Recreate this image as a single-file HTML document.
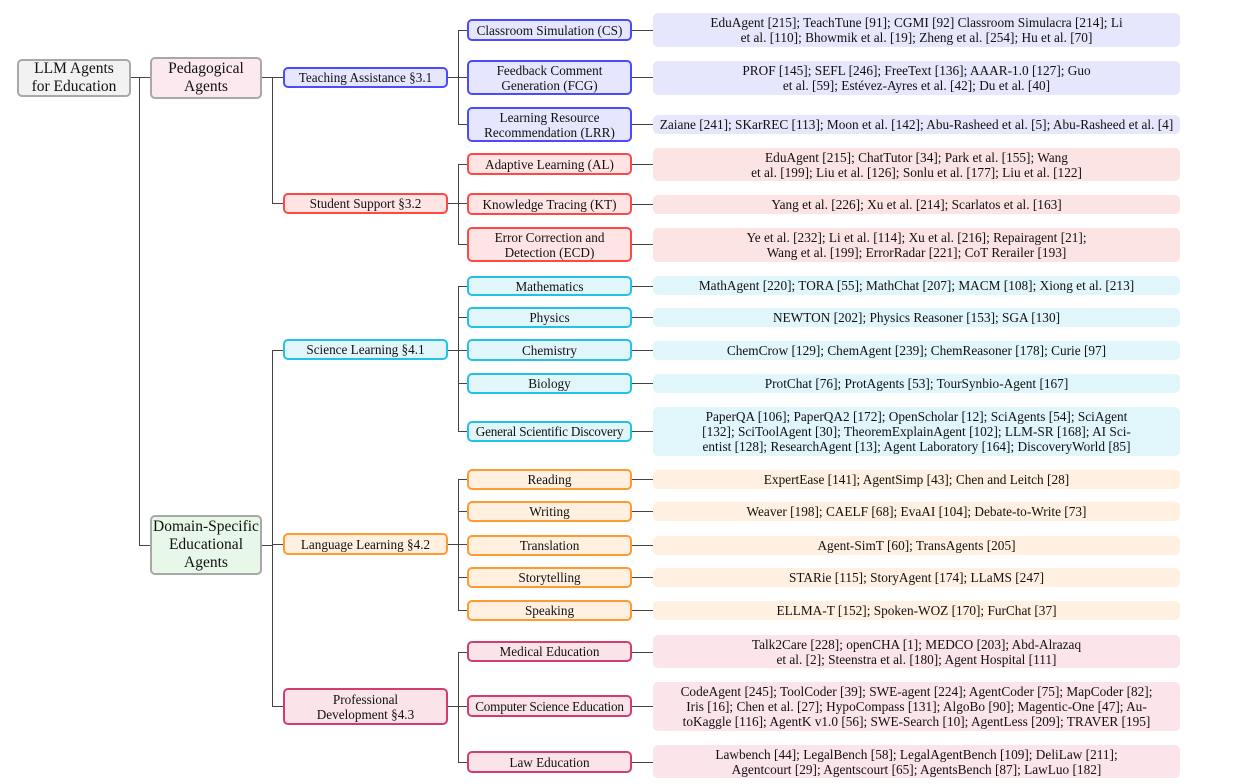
<!DOCTYPE html>
<html><head><meta charset="utf-8"><style>
body{margin:0;width:1235px;height:784px;background:#fff;position:relative;overflow:hidden;font-family:"Liberation Serif",serif;color:#111}
.b{position:absolute;display:flex;align-items:center;justify-content:center;text-align:center;box-sizing:border-box;border-radius:5px;font-size:13.2px;line-height:15px;letter-spacing:0}
.l{position:absolute;background:#444}
.g{border:2px solid #a8a8a8}
.bl{border:2px solid #4a4aff;background:#e6e6ff}
.rd{border:2px solid #ff4747;background:#ffe4e4}
.cy{border:2px solid #22c2e6;background:#e0f6fb}
.or{border:2px solid #ff9a33;background:#fff0e0}
.mg{border:2px solid #d43d6b;background:#fbe3ea}
.lf{font-size:13.3px;line-height:15px;letter-spacing:0;white-space:nowrap}
.lb{background:#e6e6fc}.lr{background:#fde4e4}.lc{background:#e0f6fb}.lo{background:#fff0e2}.lm{background:#fbe4ea}
</style></head><body>
<div class="l" style="left:131px;top:77px;width:19px;height:1.3px"></div>
<div class="l" style="left:139px;top:77px;width:1.3px;height:468px"></div>
<div class="l" style="left:139px;top:545px;width:11px;height:1.3px"></div>
<div class="l" style="left:262px;top:77px;width:21px;height:1.3px"></div>
<div class="l" style="left:272px;top:77px;width:1.3px;height:126px"></div>
<div class="l" style="left:272px;top:203px;width:11px;height:1.3px"></div>
<div class="l" style="left:262px;top:545px;width:10px;height:1.3px"></div>
<div class="l" style="left:272px;top:350px;width:1.3px;height:356px"></div>
<div class="l" style="left:272px;top:350px;width:11px;height:1.3px"></div>
<div class="l" style="left:272px;top:544px;width:11px;height:1.3px"></div>
<div class="l" style="left:272px;top:706px;width:11px;height:1.3px"></div>
<div class="l" style="left:458px;top:30px;width:1.3px;height:94px"></div>
<div class="l" style="left:448px;top:77px;width:19px;height:1.3px"></div>
<div class="l" style="left:458px;top:164px;width:1.3px;height:80px"></div>
<div class="l" style="left:448px;top:203px;width:19px;height:1.3px"></div>
<div class="l" style="left:458px;top:286px;width:1.3px;height:145px"></div>
<div class="l" style="left:448px;top:350px;width:19px;height:1.3px"></div>
<div class="l" style="left:458px;top:479px;width:1.3px;height:131px"></div>
<div class="l" style="left:448px;top:544px;width:19px;height:1.3px"></div>
<div class="l" style="left:458px;top:652px;width:1.3px;height:110px"></div>
<div class="l" style="left:448px;top:706px;width:19px;height:1.3px"></div>
<div class="l" style="left:458px;top:30px;width:195px;height:1.3px"></div>
<div class="l" style="left:458px;top:124px;width:195px;height:1.3px"></div>
<div class="l" style="left:632px;top:77px;width:21px;height:1.3px"></div>
<div class="l" style="left:458px;top:164px;width:195px;height:1.3px"></div>
<div class="l" style="left:632px;top:204px;width:21px;height:1.3px"></div>
<div class="l" style="left:458px;top:244px;width:195px;height:1.3px"></div>
<div class="l" style="left:458px;top:286px;width:195px;height:1.3px"></div>
<div class="l" style="left:458px;top:317px;width:195px;height:1.3px"></div>
<div class="l" style="left:632px;top:350px;width:21px;height:1.3px"></div>
<div class="l" style="left:458px;top:383px;width:195px;height:1.3px"></div>
<div class="l" style="left:458px;top:431px;width:195px;height:1.3px"></div>
<div class="l" style="left:458px;top:479px;width:195px;height:1.3px"></div>
<div class="l" style="left:458px;top:511px;width:195px;height:1.3px"></div>
<div class="l" style="left:632px;top:545px;width:21px;height:1.3px"></div>
<div class="l" style="left:458px;top:577px;width:195px;height:1.3px"></div>
<div class="l" style="left:458px;top:610px;width:195px;height:1.3px"></div>
<div class="l" style="left:458px;top:652px;width:195px;height:1.3px"></div>
<div class="l" style="left:632px;top:706px;width:21px;height:1.3px"></div>
<div class="l" style="left:458px;top:762px;width:195px;height:1.3px"></div>

<div class="b g" style="left:17px;top:59px;width:114px;height:38px;background:#f2f2f2;font-size:15.5px;line-height:18px">LLM Agents<br>for Education</div>
<div class="b g" style="left:150px;top:57px;width:112px;height:42px;background:#fce9f0;font-size:15.5px;line-height:18px">Pedagogical<br>Agents</div>
<div class="b g" style="left:150px;top:515px;width:112px;height:60px;background:#e8f8e8;font-size:15.5px;line-height:18px">Domain-Specific<br>Educational<br>Agents</div>

<div class="b bl" style="left:283px;top:67px;width:165px;height:21px">Teaching Assistance §3.1</div>
<div class="b rd" style="left:283px;top:193px;width:165px;height:21px">Student Support §3.2</div>
<div class="b cy" style="left:283px;top:339px;width:165px;height:21px">Science Learning §4.1</div>
<div class="b or" style="left:283px;top:533px;width:165px;height:22px">Language Learning §4.2</div>
<div class="b mg" style="left:283px;top:688px;width:165px;height:37px">Professional<br>Development §4.3</div>

<div class="b bl" style="left:467px;top:19px;width:165px;height:22px">Classroom Simulation (CS)</div>
<div class="b bl" style="left:467px;top:60px;width:165px;height:35px">Feedback Comment<br>Generation (FCG)</div>
<div class="b bl" style="left:467px;top:107px;width:165px;height:35px">Learning Resource<br>Recommendation (LRR)</div>
<div class="b rd" style="left:467px;top:153px;width:165px;height:22px">Adaptive Learning (AL)</div>
<div class="b rd" style="left:467px;top:193px;width:165px;height:22px">Knowledge Tracing (KT)</div>
<div class="b rd" style="left:467px;top:227px;width:165px;height:35px">Error Correction and<br>Detection (ECD)</div>
<div class="b cy" style="left:467px;top:276px;width:165px;height:20px">Mathematics</div>
<div class="b cy" style="left:467px;top:307px;width:165px;height:21px">Physics</div>
<div class="b cy" style="left:467px;top:339px;width:165px;height:22px">Chemistry</div>
<div class="b cy" style="left:467px;top:373px;width:165px;height:21px">Biology</div>
<div class="b cy" style="left:467px;top:421px;width:165px;height:21px;letter-spacing:-0.2px">General Scientific Discovery</div>
<div class="b or" style="left:467px;top:469px;width:165px;height:21px">Reading</div>
<div class="b or" style="left:467px;top:501px;width:165px;height:21px">Writing</div>
<div class="b or" style="left:467px;top:535px;width:165px;height:21px">Translation</div>
<div class="b or" style="left:467px;top:567px;width:165px;height:21px">Storytelling</div>
<div class="b or" style="left:467px;top:600px;width:165px;height:21px">Speaking</div>
<div class="b mg" style="left:467px;top:641px;width:165px;height:21px">Medical Education</div>
<div class="b mg" style="left:467px;top:695px;width:165px;height:22px;letter-spacing:-0.2px">Computer Science Education</div>
<div class="b mg" style="left:467px;top:751px;width:165px;height:22px">Law Education</div>

<div class="b lf lb" style="left:653px;top:13px;width:527px;height:34px">EduAgent [215]; TeachTune [91]; CGMI [92] Classroom Simulacra [214]; Li<br>et al. [110]; Bhowmik et al. [19]; Zheng et al. [254]; Hu et al. [70]</div>
<div class="b lf lb" style="left:653px;top:61px;width:527px;height:34px">PROF [145]; SEFL [246]; FreeText [136]; AAAR-1.0 [127]; Guo<br>et al. [59]; Estévez-Ayres et al. [42]; Du et al. [40]</div>
<div class="b lf lb" style="left:653px;top:115px;width:527px;height:19px">Zaiane [241]; SKarREC [113]; Moon et al. [142]; Abu-Rasheed et al. [5]; Abu-Rasheed et al. [4]</div>
<div class="b lf lr" style="left:653px;top:148px;width:527px;height:33px">EduAgent [215]; ChatTutor [34]; Park et al. [155]; Wang<br>et al. [199]; Liu et al. [126]; Sonlu et al. [177]; Liu et al. [122]</div>
<div class="b lf lr" style="left:653px;top:195px;width:527px;height:19px">Yang et al. [226]; Xu et al. [214]; Scarlatos et al. [163]</div>
<div class="b lf lr" style="left:653px;top:228px;width:527px;height:34px">Ye et al. [232]; Li et al. [114]; Xu et al. [216]; Repairagent [21];<br>Wang et al. [199]; ErrorRadar [221]; CoT Rerailer [193]</div>
<div class="b lf lc" style="left:653px;top:276px;width:527px;height:19px">MathAgent [220]; TORA [55]; MathChat [207]; MACM [108]; Xiong et al. [213]</div>
<div class="b lf lc" style="left:653px;top:308px;width:527px;height:19px">NEWTON [202]; Physics Reasoner [153]; SGA [130]</div>
<div class="b lf lc" style="left:653px;top:341px;width:527px;height:19px">ChemCrow [129]; ChemAgent [239]; ChemReasoner [178]; Curie [97]</div>
<div class="b lf lc" style="left:653px;top:374px;width:527px;height:19px">ProtChat [76]; ProtAgents [53]; TourSynbio-Agent [167]</div>
<div class="b lf lc" style="left:653px;top:407px;width:527px;height:49px">PaperQA [106]; PaperQA2 [172]; OpenScholar [12]; SciAgents [54]; SciAgent<br>[132]; SciToolAgent [30]; TheoremExplainAgent [102]; LLM-SR [168]; AI Sci-<br>entist [128]; ResearchAgent [13]; Agent Laboratory [164]; DiscoveryWorld [85]</div>
<div class="b lf lo" style="left:653px;top:470px;width:527px;height:19px">ExpertEase [141]; AgentSimp [43]; Chen and Leitch [28]</div>
<div class="b lf lo" style="left:653px;top:502px;width:527px;height:19px">Weaver [198]; CAELF [68]; EvaAI [104]; Debate-to-Write [73]</div>
<div class="b lf lo" style="left:653px;top:536px;width:527px;height:19px">Agent-SimT [60]; TransAgents [205]</div>
<div class="b lf lo" style="left:653px;top:568px;width:527px;height:19px">STARie [115]; StoryAgent [174]; LLaMS [247]</div>
<div class="b lf lo" style="left:653px;top:601px;width:527px;height:19px">ELLMA-T [152]; Spoken-WOZ [170]; FurChat [37]</div>
<div class="b lf lm" style="left:653px;top:635px;width:527px;height:33px">Talk2Care [228]; openCHA [1]; MEDCO [203]; Abd-Alrazaq<br>et al. [2]; Steenstra et al. [180]; Agent Hospital [111]</div>
<div class="b lf lm" style="left:653px;top:682px;width:527px;height:49px">CodeAgent [245]; ToolCoder [39]; SWE-agent [224]; AgentCoder [75]; MapCoder [82];<br>Iris [16]; Chen et al. [27]; HypoCompass [131]; AlgoBo [90]; Magentic-One [47]; Au-<br>toKaggle [116]; AgentK v1.0 [56]; SWE-Search [10]; AgentLess [209]; TRAVER [195]</div>
<div class="b lf lm" style="left:653px;top:745px;width:527px;height:33px">Lawbench [44]; LegalBench [58]; LegalAgentBench [109]; DeliLaw [211];<br>Agentcourt [29]; Agentscourt [65]; AgentsBench [87]; LawLuo [182]</div>
</body></html>
